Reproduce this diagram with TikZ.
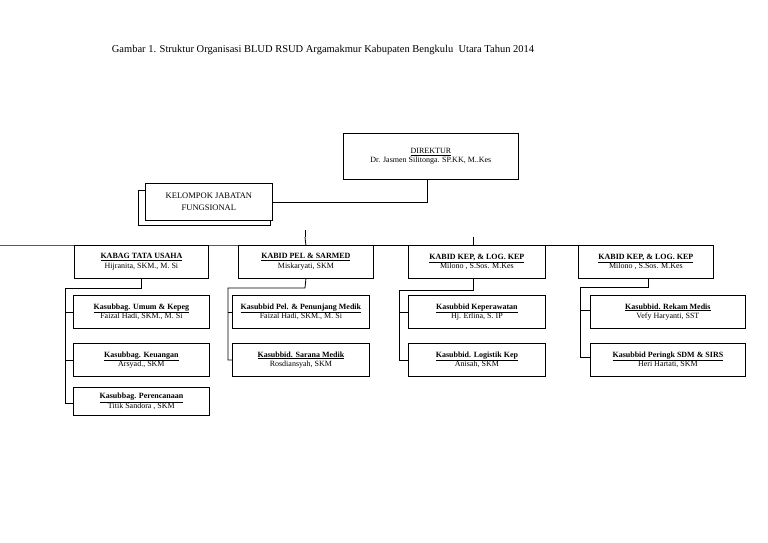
\documentclass[tikz,border=0pt]{standalone}
\usepackage{fontspec}
\setmainfont{Liberation Serif}
\usetikzlibrary{positioning}
\tikzset{
  unit/.style={draw, thick, minimum height=33pt, align=center, font=\fontsize{8}{9.5}\selectfont, inner sep=1pt},
  link/.style={draw, thick}
}
\newcommand{\jab}[2]{\underline{\textbf{#1}}\\#2}
\begin{document}
\begin{tikzpicture}[x=1pt,y=-1pt]
	\useasboundingbox (0,0) rectangle (768,543);
	
	% title
	\node[font=\fontsize{10.5}{12}\selectfont] (title) at (323,50) {Gambar 1. Struktur Organisasi BLUD RSUD Argamakmur Kabupaten Bengkulu\ \ Utara Tahun 2014};
	
	% direktur and fungsional
	\node[unit, minimum width=175pt, minimum height=46pt, anchor=north west] (dir) at (343,133) {\underline{DIREKTUR}\\Dr. Jasmen Silitonga. SP.KK, M..Kes};
	\draw[thick] (138,190) rectangle (270,225);
	\node[unit, fill=white, font=\fontsize{8.5}{12}\selectfont, minimum width=127pt, minimum height=37pt, anchor=north west] (fung) at (145,183) {KELOMPOK JABATAN\\FUNGSIONAL};
	\draw[link] (dir.south -| 427,0) |- (fung.east |- 0,202);
	
	% kepala bagian / bidang
	\node[unit, minimum width=134pt, anchor=north west] (tu) at (74,245) {\jab{KABAG TATA USAHA}{Hijranita, SKM., M. Si}};
	\node[unit, minimum width=135pt, anchor=north west] (pel) at (238,245) {\jab{KABID PEL \& SARMED}{Miskaryati, SKM}};
	\node[unit, minimum width=137pt, anchor=north west] (kep) at (408,245) {\jab{KABID KEP, \& LOG. KEP}{Milono , S.Sos. M.Kes}};
	\node[unit, minimum width=135pt, anchor=north west] (kep2) at (578,245) {\jab{KABID KEP, \& LOG. KEP}{Milono , S.Sos. M.Kes}};
	\coordinate (bus) at (305,230);
	\draw[link] (bus) -- (305,237);
	\draw[link] (tu.north -| 143,0) |- (kep2.north -| 0,237) -| (kep2.north -| 648,0);
	\draw[link] (305,237) -- (pel.north);
	\draw[link] (kep.north -| 473,0) -- (473,237);
	
	% sub bagian
	\node[unit, minimum width=136pt, anchor=north west] (umum) at (73,295) {\jab{Kasubbag. Umum \& Kepeg}{Faizal Hadi, SKM., M. Si}};
	\node[unit, minimum width=136pt, anchor=north west] (keu) at (73,343) {\jab{Kasubbag. Keuangan}{Arsyad., SKM}};
	\node[unit, minimum width=136pt, minimum height=28pt, anchor=north west] (ren) at (73,387) {\jab{Kasubbag. Perencanaan}{Titik Sandora , SKM}};
	\draw[link] (tu.south -| 141,0) -- (141,288) -| (65,403) -- (ren.west |- 0,403);
	\draw[link] (65,312) -- (umum.west |- 0,312);
	\draw[link] (65,360) -- (keu.west |- 0,360);
	
	\node[unit, minimum width=137pt, anchor=north west] (penunjang) at (232,295) {\jab{Kasubbid Pel. \& Penunjang Medik}{Faizal Hadi, SKM., M. Si}};
	\node[unit, minimum width=137pt, anchor=north west] (sarana) at (232,343) {\jab{Kasubbid. Sarana Medik}{Rosdiansyah, SKM}};
	\draw[link] (pel.south) -- (305,288) -| (228,360) -- (sarana.west |- 0,360);
	\draw[link] (228,312) -- (penunjang.west |- 0,312);
	
	\node[unit, minimum width=137pt, anchor=north west] (rawat) at (408,295) {\jab{Kasubbid Keperawatan}{Hj. Erlina, S. IP}};
	\node[unit, minimum width=137pt, anchor=north west] (logistik) at (408,343) {\jab{Kasubbid. Logistik Kep}{Anisah, SKM}};
	\draw[link] (kep.south -| 473,0) -- (473,290) -| (399,360) -- (logistik.west |- 0,360);
	\draw[link] (399,312) -- (rawat.west |- 0,312);
	
	\node[unit, minimum width=155pt, anchor=north west] (rekam) at (590,295) {\jab{Kasubbid. Rekam Medis}{Vefy Haryanti, SST}};
	\node[unit, minimum width=155pt, anchor=north west] (sdm) at (590,343) {\jab{Kasubbid Peringk SDM \& SIRS}{Heri Hartati, SKM}};
	\draw[link] (kep2.south -| 648,0) -- (648,287) -| (580,357) -- (sdm.west |- 0,357);
	\draw[link] (580,310) -- (rekam.west |- 0,310);
	
\end{tikzpicture}
\end{document}
